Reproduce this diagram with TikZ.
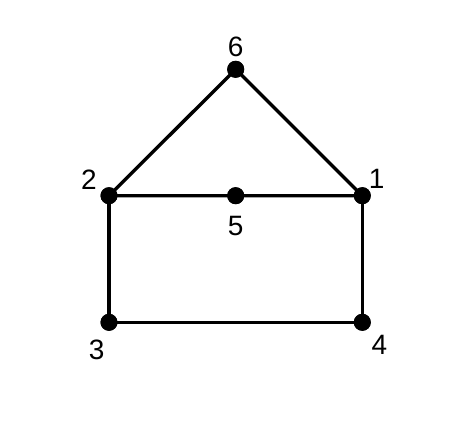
\documentclass[tikz,border=0pt]{standalone}
\usepackage{fontspec}
\setmainfont{Liberation Sans}
\begin{document}
\begin{tikzpicture}[x=1pt,y=-1pt,
  dot/.style={circle,fill=black,inner sep=0pt,minimum size=17pt},
  lab/.style={font=\fontsize{28}{30}\selectfont,inner sep=0pt},
  edge/.style={line width=3.4pt}]
\useasboundingbox[fill=white] (0,0) rectangle (474,423);
\node[dot] (n6) at (235.7,69.3) {};
\node[dot] (n2) at (109,195.7) {};
\node[dot] (n5) at (235.7,195.7) {};
\node[dot] (n1) at (362.3,195.7) {};
\node[dot] (n3) at (109,322.3) {};
\node[dot] (n4) at (362.3,322.3) {};
\draw[edge] (n6.center) -- (n2.center) -- (n5.center) -- (n1.center) -- (n6.center);
\draw[edge] (n2.center) -- (n3.center) -- (n4.center) -- (n1.center);
\node[dot] at (n6) {};
\node[dot] at (n2) {};
\node[dot] at (n5) {};
\node[dot] at (n1) {};
\node[dot] at (n3) {};
\node[dot] at (n4) {};
\node[lab] (l6) at (235.7,46.7) {6};
\node[lab] (l2) at (89,180) {2};
\node[lab] (l5) at (235.7,226) {5};
\node[lab] (l1) at (376.7,179) {1};
\node[lab] (l3) at (96.7,350) {3};
\node[lab] (l4) at (379.3,345) {4};
\end{tikzpicture}
\end{document}
